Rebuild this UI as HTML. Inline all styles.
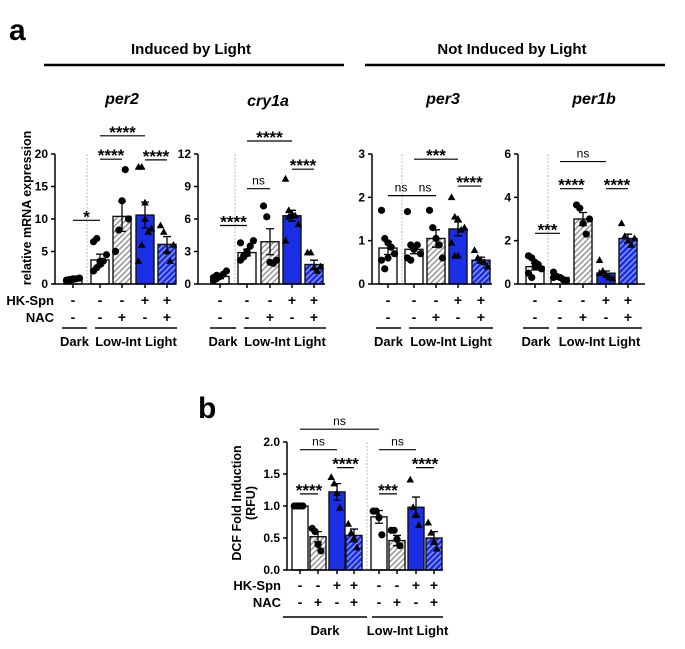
<!DOCTYPE html>
<html><head><meta charset="utf-8"><style>
body{margin:0;background:#fff}
svg{display:block;font-family:"Liberation Sans",Arial,sans-serif;font-weight:bold}
</style></head><body>
<svg id="fig" width="685" height="649" viewBox="0 0 685 649">
<defs>
<pattern id="hg" width="4" height="4" patternUnits="userSpaceOnUse" patternTransform="rotate(45)"><rect width="4" height="4" fill="#fff"/><rect width="1.6" height="4" fill="#9a9a9a"/></pattern>
<pattern id="hb" width="4" height="4" patternUnits="userSpaceOnUse" patternTransform="rotate(45)"><rect width="4" height="4" fill="#1a2ee6"/><rect width="1.4" height="4" fill="#8d9cf5"/></pattern>
</defs>
<text x="9" y="40" font-size="30">a</text>
<text x="191" y="54" font-size="15" text-anchor="middle">Induced by Light</text>
<line x1="44" y1="65" x2="344" y2="65" stroke="#000" stroke-width="2.5"/>
<text x="512" y="54" font-size="15" text-anchor="middle">Not Induced by Light</text>
<line x1="365" y1="65" x2="665" y2="65" stroke="#000" stroke-width="2.5"/>
<text x="31" y="208" font-size="12.5" text-anchor="middle" transform="rotate(-90 31 208)">relative mRNA expression</text>
<text x="198" y="418" font-size="30">b</text>
<text x="241" y="503" font-size="12.5" text-anchor="middle" transform="rotate(-90 241 503)">DCF Fold Induction</text>
<text x="255" y="503" font-size="12.5" text-anchor="middle" transform="rotate(-90 255 503)">(RFU)</text>
</svg>
<script>
// ---- data ----
const per2Means=[0.7,3.7,10.4,10.6,6.1];
const per2Err=[0.1,0.9,2.3,2.0,1.2];
const per2Pts=[[0.5,0.6,0.7,0.8,0.9,0.6,0.7,0.8],[2,2.5,3,3.5,4.5,6.5,7,3.5],[5,8.3,12.8,17.6,10],[18,18,12.5,8,8.5,3.5,6,10],[9,8,5,3.5,6]];
const per2Sig=[[0,1,9.8,'*'],[1,2,19.2,'****'],[1,3,22.8,'****'],[3,4,19.1,'****']];
const per2Ticks=[0,5,10,15,20];
const cry1aMeans=[0.7,2.9,3.9,6.3,1.8];
const cry1aErr=[0.2,0.3,1.2,0.5,0.4];
const cry1aPts=[[0.3,0.5,0.7,0.9,1.2,0.6,0.8],[2.2,2.5,3,3.5,4,3.8,2.6,2.8],[7.2,6.2,2,1.9,2.2],[9.7,6.8,6.5,6.3,5.5,4,6.2],[2.9,2.9,1.5,1.2,1.6]];
const cry1aSig=[[0,1,5.4,'****'],[1,2,8.8,'ns'],[1,3,13.2,'****'],[3,4,10.6,'****']];
const cry1aTicks=[0,3,6,9,12];
const per3Means=[0.83,0.8,1.05,1.27,0.55];
const per3Err=[0.15,0.1,0.2,0.16,0.07];
const per3Pts=[[1.7,1.05,0.95,0.85,0.7,0.55,0.35,0.6],[1.67,0.9,0.85,0.9,0.7,0.6,0.55,0.8],[1.7,1.3,1.05,0.9,0.6],[2.0,1.55,1.5,1.25,1.3,0.95,0.65,0.65],[0.78,0.6,0.55,0.5,0.4]];
const per3Sig=[[0,1,2.04,'ns'],[1,2,2.04,'ns'],[1,3,2.88,'***'],[3,4,2.26,'****']];
const per3Ticks=[0,1,2,3];
const per1bMeans=[0.8,0.3,3.0,0.5,2.1];
const per1bErr=[0.15,0.07,0.3,0.1,0.2];
const per1bPts=[[1.3,1.2,1.0,0.9,0.7,0.5,0.3,0.8],[0.55,0.35,0.3,0.2,0.15,0.3],[3.65,3.5,2.8,2.3,3.0],[1.1,0.6,0.4,0.3,0.25,0.5],[2.8,2.2,2.0,1.8,2.1]];
const per1bSig=[[0,1,2.34,'***'],[1,2,4.4,'****'],[3,4,4.4,'****'],[1,3,5.65,'ns']];
const per1bTicks=[0,2,4,6];
const dcfMeans=[1.0,0.52,1.22,0.54,0.83,0.46,0.98,0.5];
const dcfErr=[0,0.08,0.13,0.1,0.1,0.08,0.16,0.1];
const dcfPts=[[1,1,1,1],[0.65,0.6,0.4,0.3],[1.45,1.35,1.2,0.97],[0.72,0.58,0.5,0.35],[0.92,0.92,0.82,0.55],[0.62,0.62,0.48,0.38],[1.41,0.98,0.87,0.7],[0.74,0.58,0.45,0.33]];
const dcfSig=[[0,1,1.19,'****'],[0,2,1.88,'ns'],[2,3,1.6,'****'],[4,5,1.19,'***'],[4,6,1.88,'ns'],[6,7,1.6,'****'],[0,4,2.2,'ns']];
const dcfTicks=['0.0','0.5','1.0','1.5','2.0'];
const geneHK=['-','-','-','+','+'], geneNAC=['-','-','+','-','+'];
const geneFill=['#fff','#fff','url(#hg)','#1a2ee6','url(#hb)'];
const dcfHK=['-','-','+','+','-','-','+','+'], dcfNAC=['-','+','-','+','-','+','-','+'];
const dcfFill=['#fff','url(#hg)','#1a2ee6','url(#hb)','#fff','url(#hg)','#1a2ee6','url(#hb)'];

const svg=document.getElementById('fig');
const NS='http://www.w3.org/2000/svg';
function mk(tag,at,parent){const e=document.createElementNS(NS,tag);for(const k in at)e.setAttribute(k,at[k]);(parent||svg).appendChild(e);return e;}

function panel(o){
  const g=mk('g',{});
  
  
  const ymax=+o.ticks[o.ticks.length-1];
  const Y=v=>o.y0-(v/ymax)*(o.y0-o.ytop);
  const X=i=>o.centers[i];
  if(o.title){const t=mk('text',{x:o.tx,y:o.ty,'font-size':16,'font-style':'italic','text-anchor':'middle'},g);t.textContent=o.title;
    }
  const d=mk('line',{x1:o.div,x2:o.div,y1:Y(ymax),y2:o.y0,stroke:'#aaa','stroke-width':0.8,'stroke-dasharray':'2,1.5'},g);
  
  o.means.forEach((m,i)=>{
    const b=mk('rect',{x:X(i)-o.bw/2,y:Y(m),width:o.bw,height:o.y0-Y(m),fill:o.fills[i],stroke:'#111','stroke-width':1.4},g);
    
  });
  o.pts.forEach((arr,i)=>{
    const tri=o.hk[i]==='+';
    arr.forEach((v,j)=>{
      const off=((j%5)-2)*o.bw*0.18;
      const cx=X(i)+off, cy=Y(v);
      let p;
      if(tri) p=mk('polygon',{points:`${cx},${cy-4} ${cx-3.8},${cy+2.8} ${cx+3.8},${cy+2.8}`,fill:'#000'},g);
      else p=mk('circle',{cx:cx,cy:cy,r:3.6,fill:'#000'},g);
      
    });
  });
  o.means.forEach((m,i)=>{
    const e=o.err[i];
    const pth=mk('path',{d:`M${X(i)},${Y(m-e)}V${Y(m+e)}M${X(i)-4},${Y(m+e)}H${X(i)+4}M${X(i)-4},${Y(m-e)}H${X(i)+4}`,stroke:'#000','stroke-width':1.3,fill:'none'},g);
    
  });
  const ax=mk('path',{d:`M${o.ax},${Y(ymax)}V${o.y0}H${o.xend}`,stroke:'#000','stroke-width':1.5,fill:'none'},g);
  
  o.ticks.forEach(t=>{
    const y=Y(+t);
    const tl=mk('line',{x1:o.ax-4,x2:o.ax,y1:y,y2:y,stroke:'#000','stroke-width':1.5},g);
    
    const tx=mk('text',{x:o.ax-7,y:y+4,'font-size':12,'text-anchor':'end'},g);tx.textContent=t;
    
  });
  o.centers.forEach(c=>{
    const tl=mk('line',{x1:c,x2:c,y1:o.y0,y2:o.y0+4,stroke:'#000','stroke-width':1.5},g);
    
  });
  o.sig.forEach(s=>{
    const y=Y(s[2]);
    const l=mk('line',{x1:X(s[0]),x2:X(s[1]),y1:y,y2:y,stroke:'#000','stroke-width':1.2},g);
    
    const ns=s[3]==='ns';
    const t=mk('text',{x:(X(s[0])+X(s[1]))/2,y:ns?y-4:y+2,'font-size':ns?12:17,'font-weight':ns?'normal':'bold','text-anchor':'middle'},g);
    t.textContent=s[3];
    
  });
  o.hk.forEach((s,i)=>{
    const t=mk('text',{x:X(i),y:o.r1+5,'font-size':14,'text-anchor':'middle'},g);t.textContent=s;
    
    const t2=mk('text',{x:X(i),y:o.r2+5,'font-size':14,'text-anchor':'middle'},g);t2.textContent=o.nac[i];
    
  });
  if(o.rowLabels){
    const a=mk('text',{x:o.rowLabels,y:o.r1+5,'font-size':13,'text-anchor':'end'},g);a.textContent='HK-Spn';
    
    const b=mk('text',{x:o.rowLabels,y:o.r2+5,'font-size':13,'text-anchor':'end'},g);b.textContent='NAC';
    
  }
  o.groups.forEach(gr=>{
    const l=mk('line',{x1:gr[0],x2:gr[1],y1:o.gl,y2:o.gl,stroke:'#000','stroke-width':1.6},g);
    
    const t=mk('text',{x:(gr[0]+gr[1])/2,y:o.gl+18,'font-size':13,'text-anchor':'middle'},g);t.textContent=gr[2];
    
  });
}
const common={y0:284,ytop:154,bw:18,r1:300,r2:317,gl:328,hk:geneHK,nac:geneNAC,fills:geneFill};
panel(Object.assign({},common,{name:'per2',title:'per2',tx:122,ty:104,ax:55,xend:176,centers:[73,100,122,145,167],div:87,means:per2Means,err:per2Err,pts:per2Pts,sig:per2Sig,ticks:per2Ticks,rowLabels:54,groups:[[62,87,'Dark'],[95,177,'Low-Int Light']]}));
panel(Object.assign({},common,{name:'cry1a',title:'cry1a',tx:268,ty:106,ax:198,xend:325,centers:[220,247,270,292,314],div:235,means:cry1aMeans,err:cry1aErr,pts:cry1aPts,sig:cry1aSig,ticks:cry1aTicks,groups:[[210,236,'Dark'],[244,326,'Low-Int Light']]}));
panel(Object.assign({},common,{name:'per3',title:'per3',tx:443,ty:104,ax:372,xend:492,centers:[388,414,436,458,481],div:402,means:per3Means,err:per3Err,pts:per3Pts,sig:per3Sig,ticks:per3Ticks,groups:[[376,401,'Dark'],[409,493,'Low-Int Light']]}));
panel(Object.assign({},common,{name:'per1b',title:'per1b',tx:594,ty:104,ax:518,xend:645,centers:[535,560,583,606,628],div:548,means:per1bMeans,err:per1bErr,pts:per1bPts,sig:per1bSig,ticks:per1bTicks,groups:[[523,549,'Dark'],[557,642,'Low-Int Light']]}));
panel({name:'dcf',ax:287,xend:443,y0:570,ytop:442,bw:16,r1:585,r2:602,gl:617,hk:dcfHK,nac:dcfNAC,fills:dcfFill,centers:[300,318,337,354,379,397,416,434],div:367,means:dcfMeans,err:dcfErr,pts:dcfPts,sig:dcfSig,ticks:dcfTicks,rowLabels:281,groups:[[283,367,'Dark'],[372,443,'Low-Int Light']]});
</script>
</body></html>
